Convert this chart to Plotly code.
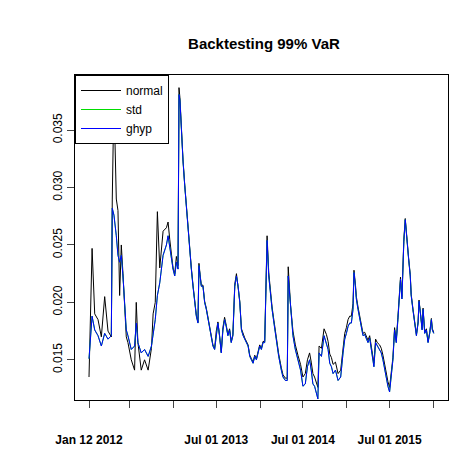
import pandas as pd
import plotly.graph_objects as go

start = pd.Timestamp("2012-01-12")
days = [0,13,24,38,52,66,80,94,98,105,115,122,129,136,143,150,157,164,178,192,199,206,220,234,249,263,270,279,288,298,312,326,333,340,347,354,361,368,375,379,383,389,396,403,410,417,424,431,438,445,452,459,463,468,473,480,487,494,501,508,515,522,529,536,543,550,557,564,571,578,585,592,599,606,614,621,628,635,642,649,656,670,677,684,691,698,705,712,719,726,733,740,
        750,757,764,771,779,789,799,810,817,827,835,839,849,859,869,880,891,901,911,920,929,936,943,950,957,964,969,979,990,1000,1007,1014,1021,1028,1038,1049,1060,1070,1077,1084,1091,1098,1105,1112,1116,1122,1126,1133,1140,1147,1154,1161,1168,1175,1182,1189,1196,1200,1207,1214,1224,1231,1238,1245,1252,1259,1266,1270,1276,1280,1287,1294,1301,1308,1312,1318,1322,1326,1332,1336,1341,1346,1353,1357,1364,1372,1379,1386,1390,1397,1403,1407,1414,1421,1428,1435,1442,1446,1452]

ghyp = [0.0151,0.0188,0.0176,0.0171,0.0162,0.0173,0.0168,0.0171,0.0282,0.0276,0.0258,0.0241,0.0235,0.0241,0.0223,0.0200,0.0176,0.0171,0.0159,0.0162,0.0182,0.0165,0.0156,0.0159,0.0153,0.0162,0.0171,0.0185,0.0206,0.0217,0.0241,0.0250,0.0258,0.0247,0.0238,0.0229,0.0223,0.0235,0.0229,0.0381,0.0376,0.0346,0.0323,0.0302,0.0282,0.0264,0.0247,0.0229,0.0214,0.0200,0.0188,0.0182,0.0232,0.0223,0.0214,0.0214,0.0200,0.0194,0.0185,0.0176,0.0171,0.0162,0.0159,0.0173,0.0182,0.0171,0.0156,0.0176,0.0185,0.0179,0.0171,0.0176,0.0165,0.0171,0.0214,0.0223,0.0214,0.0200,0.0176,0.0171,0.0168,0.0162,0.0153,0.0150,0.0147,0.0153,0.0150,0.0156,0.0162,0.0159,0.0165,0.0165,
        0.0254,0.0223,0.0206,0.0194,0.0182,0.0165,0.0153,0.0141,0.0135,0.0132,0.0132,0.0223,0.0194,0.0171,0.0159,0.0150,0.0141,0.0127,0.0129,0.0144,0.0150,0.0141,0.0129,0.0127,0.0122,0.0116,0.0156,0.0153,0.0171,0.0165,0.0159,0.0147,0.0144,0.0138,0.0141,0.0132,0.0135,0.0156,0.0168,0.0173,0.0179,0.0182,0.0182,0.0194,0.0226,0.0214,0.0203,0.0194,0.0185,0.0176,0.0171,0.0172,0.0168,0.0165,0.0169,0.0159,0.0147,0.0144,0.0165,0.0162,0.0159,0.0156,0.0150,0.0141,0.0132,0.0127,0.0122,0.0129,0.0141,0.0150,0.0176,0.0165,0.0185,0.0209,0.0220,0.0203,0.0244,0.0253,0.0272,0.0261,0.0253,0.0238,0.0223,0.0206,0.0194,0.0182,0.0171,0.0182,0.0201,0.0188,0.0176,0.0194,0.0173,0.0176,0.0165,0.0173,0.0185,0.0176,0.0173]

normal = [0.0135,0.0247,0.0190,0.0185,0.0170,0.0205,0.0175,0.0170,0.0290,0.0380,0.0290,0.0280,0.0206,0.0250,0.0225,0.0200,0.0170,0.0165,0.0150,0.0141,0.0200,0.0165,0.0141,0.0150,0.0141,0.0160,0.0190,0.0200,0.0279,0.0230,0.0262,0.0265,0.0270,0.0255,0.0240,0.0230,0.0225,0.0240,0.0232,0.0387,0.0378,0.0348,0.0324,0.0303,0.0283,0.0265,0.0248,0.0230,0.0215,0.0201,0.0189,0.0183,0.0234,0.0224,0.0215,0.0215,0.0201,0.0195,0.0186,0.0177,0.0172,0.0163,0.0160,0.0175,0.0183,0.0172,0.0157,0.0178,0.0187,0.0180,0.0172,0.0177,0.0166,0.0172,0.0216,0.0225,0.0215,0.0201,0.0177,0.0172,0.0169,0.0163,0.0154,0.0151,0.0148,0.0154,0.0151,0.0157,0.0163,0.0160,0.0166,0.0166,
          0.0258,0.0226,0.0208,0.0196,0.0184,0.0167,0.0155,0.0143,0.0137,0.0134,0.0134,0.0231,0.0197,0.0175,0.0163,0.0154,0.0146,0.0135,0.0138,0.0150,0.0156,0.0148,0.0138,0.0135,0.0130,0.0126,0.0162,0.0160,0.0177,0.0172,0.0166,0.0155,0.0152,0.0146,0.0148,0.0138,0.0141,0.0161,0.0173,0.0178,0.0185,0.0188,0.0188,0.0199,0.0228,0.0216,0.0205,0.0196,0.0187,0.0178,0.0173,0.0174,0.0170,0.0167,0.0171,0.0161,0.0150,0.0147,0.0168,0.0165,0.0163,0.0160,0.0154,0.0145,0.0136,0.0131,0.0126,0.0133,0.0144,0.0152,0.0178,0.0167,0.0187,0.0211,0.0222,0.0205,0.0246,0.0255,0.0273,0.0262,0.0254,0.0239,0.0224,0.0207,0.0195,0.0183,0.0172,0.0183,0.0202,0.0189,0.0177,0.0195,0.0174,0.0177,0.0166,0.0174,0.0186,0.0177,0.0174]

std = list(ghyp)  # std is drawn underneath ghyp and essentially identical

tick_dates = ["2012-01-12","2012-07-02","2013-01-02","2013-07-01","2014-01-02","2014-07-01","2015-01-02","2015-07-01","2015-12-31"]
tick_text = ["Jan 12 2012","","","Jul 01 2013","","Jul 01 2014","","Jul 01 2015",""]
y_ticks = [0.015,0.020,0.025,0.030,0.035]

dates = [start + pd.Timedelta(days=d) for d in days]
fig = go.Figure()
fig.add_trace(go.Scatter(x=dates, y=normal, mode="lines", name="normal", line=dict(color="black", width=1)))
fig.add_trace(go.Scatter(x=dates, y=std, mode="lines", name="std", line=dict(color="#00dd00", width=1)))
fig.add_trace(go.Scatter(x=dates, y=ghyp, mode="lines", name="ghyp", line=dict(color="blue", width=1)))

font = dict(family="Liberation Sans, Arial", size=12, color="black")
fig.update_layout(
    width=474, height=474, margin=dict(l=67, r=34, t=67, b=82),
    paper_bgcolor="white", plot_bgcolor="white", font=font,
    title=dict(text="<b>Backtesting 99% VaR</b>", x=0.54, xanchor="center", y=0.935, font=dict(size=15)),
    legend=dict(x=0, y=1, xanchor="left", yanchor="top", bordercolor="black", borderwidth=1,
                bgcolor="white", font=dict(size=12), tracegroupgap=0, itemwidth=40),
    xaxis=dict(range=[start - pd.Timedelta(days=59), start + pd.Timedelta(days=1512)],
               tickvals=tick_dates, ticktext=["<b>%s</b>" % t if t else "" for t in tick_text],
               ticks="outside", ticklen=7, showgrid=False, zeroline=False, automargin=False,
               showline=True, linecolor="black", mirror=True, ticklabelstandoff=22),
    yaxis=dict(range=[0.0115, 0.0398], tickvals=y_ticks, ticktext=["%.3f" % v for v in y_ticks],
               tickangle=-90, ticks="outside", ticklen=7, showgrid=False, zeroline=False, automargin=False,
               showline=True, linecolor="black", mirror=True),
)
fig.write_html("out.html")
